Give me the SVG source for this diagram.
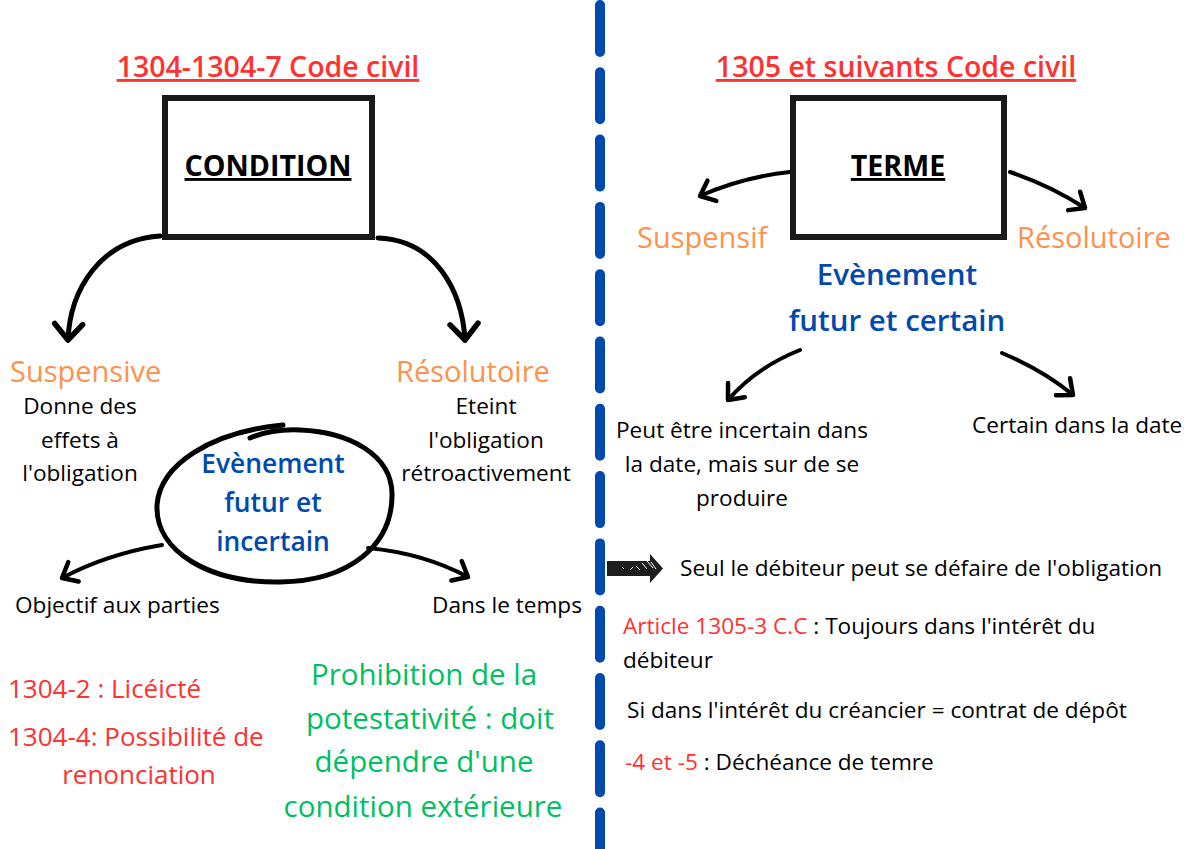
<svg xmlns="http://www.w3.org/2000/svg" width="1200" height="849" viewBox="0 0 1200 849">
<defs>
<style>
text{font-family:"Open Sans","Noto Sans","Liberation Sans",sans-serif;}
.t{font-size:22.6px;fill:#000;}
.c{text-anchor:middle;}
.title{font-size:28.5px;font-weight:600;fill:#ff3131;text-decoration:underline;}
.head{font-size:28.6px;font-weight:700;fill:#000;text-decoration:underline;}
.or{font-size:29px;fill:#ff914d;}
.bl{font-weight:600;fill:#004aad;}
.red{fill:#ff3131;}
.gr{font-size:29.5px;fill:#00bf63;}
.box{fill:#fff;stroke:#1a1a1a;stroke-width:6;}
.arr{fill:none;stroke:#000;stroke-width:5;stroke-linecap:round;marker-end:url(#ah);}
.arr2{fill:none;stroke:#000;stroke-width:4;stroke-linecap:round;marker-end:url(#ah2);}
</style>
<marker id="ah" markerUnits="userSpaceOnUse" markerWidth="40" markerHeight="40" viewBox="-20 -20 40 40" refX="0" refY="0" orient="auto">
<path d="M-16,-14 L0,0 L-16,14" fill="none" stroke="#000" stroke-width="5.5" stroke-linecap="round" stroke-linejoin="round"/>
</marker>
<marker id="ah2" markerUnits="userSpaceOnUse" markerWidth="40" markerHeight="40" viewBox="-20 -20 40 40" refX="0" refY="0" orient="auto">
<path d="M-13,-11 L0,0 L-13,11" fill="none" stroke="#000" stroke-width="4.5" stroke-linecap="round" stroke-linejoin="round"/>
</marker>
</defs>
<rect width="1200" height="849" fill="#fff"/>

<g id="divider">
<path d="M600,5 V849" stroke="#004aad" stroke-width="10" stroke-linecap="round" stroke-dasharray="47 20.3" fill="none"/>
</g>

<g id="connectors">
<path class="arr" d="M160,236 C100,240 70,290 68,340"/>
<path class="arr" d="M378,238 C435,240 462,290 465,340"/>
<path class="arr2" d="M790,172 C752,176 725,185 700,196"/>
<path class="arr2" d="M1010,172 C1040,182 1065,195 1085,208"/>
<path class="arr2" d="M800,350 C770,362 745,380 728,400"/>
<path class="arr2" d="M1002,353 C1030,365 1055,380 1073,395"/>
<path class="arr2" d="M162,545 C120,552 90,563 62,578"/>
<path class="arr2" d="M368,548 C410,552 440,562 468,577"/>
</g>

<g id="title-left"><text class="title c" x="268" y="77">1304-1304-7 Code civil</text></g>
<g id="title-right"><text class="title c" x="896" y="77">1305 et suivants Code civil</text></g>

<g id="condition">
<rect class="box" x="165" y="98" width="207" height="139"/>
<text class="head c" x="268" y="176">CONDITION</text>
</g>
<g id="terme">
<rect class="box" x="793" y="98" width="211" height="139"/>
<text class="head c" x="898" y="176">TERME</text>
</g>

<g id="suspensive">
<text class="or" x="10" y="382">Suspensive</text>
<text class="t c" x="80" y="414">Donne des</text>
<text class="t c" x="80" y="448">effets à</text>
<text class="t c" x="80" y="481">l'obligation</text>
</g>
<g id="resolutoire-left">
<text class="or" x="396" y="382">Résolutoire</text>
<text class="t c" x="486" y="414">Eteint</text>
<text class="t c" x="486" y="448">l'obligation</text>
<text class="t c" x="486" y="481">rétroactivement</text>
</g>

<g id="evenement-incertain">
<path d="M283,425 C210,432 160,465 157,505 C155,552 210,583 280,582 C350,581 393,545 392,493 C391,455 350,432 300,430 C278,429 262,433 250,438" fill="none" stroke="#000" stroke-width="5" stroke-linecap="round"/>
<text class="bl c" font-size="26.4" x="273" y="473">Evènement</text>
<text class="bl c" font-size="26.4" x="273" y="512">futur et</text>
<text class="bl c" font-size="26.4" x="273" y="551">incertain</text>
</g>

<g id="objectif"><text class="t" x="15" y="613">Objectif aux parties</text></g>
<g id="temps"><text class="t" x="432" y="613">Dans le temps</text></g>

<g id="articles-left">
<text class="red" font-size="26" x="8" y="698">1304-2 : Licéicté</text>
<text class="red" font-size="26" x="8" y="746">1304-4: Possibilité de</text>
<text class="red c" font-size="26" x="139" y="784">renonciation</text>
</g>

<g id="prohibition">
<text class="gr c" x="424" y="685">Prohibition de la</text>
<text class="gr c" x="430" y="729">potestativité : doit</text>
<text class="gr c" x="424" y="772">dépendre d'une</text>
<text class="gr c" x="423" y="817">condition extérieure</text>
</g>

<g id="suspensif"><text class="or" x="637" y="248">Suspensif</text></g>
<g id="resolutoire-right"><text class="or" x="1017" y="248">Résolutoire</text></g>

<g id="evenement-certain">
<text class="bl c" font-size="29.5" x="897" y="285">Evènement</text>
<text class="bl c" font-size="29.5" x="897" y="331">futur et certain</text>
</g>

<g id="incertain-date">
<text class="t c" x="742" y="438">Peut être incertain dans</text>
<text class="t c" x="742" y="472">la date, mais sur de se</text>
<text class="t c" x="742" y="506">produire</text>
</g>
<g id="certain-date"><text class="t" x="972" y="433">Certain dans la date</text></g>

<g id="seul-debiteur">
<path d="M607,561 H650 V554 L663,568.5 L650,583 V576 H607 Z" fill="#1e1e1e"/>
<path d="M622,567 l2,2 M630,570 l3,-3 M636,566 l4,4 M642,563 l5,6 M647,561 l6,7 M651,562 l5,7" stroke="#fff" stroke-width="1" fill="none"/>
<text class="t" x="680" y="576">Seul le débiteur peut se défaire de l'obligation</text>
</g>

<g id="article-1305-3">
<text class="t" x="623" y="634"><tspan class="red">Article 1305-3 C.C</tspan> : Toujours dans l'intérêt du</text>
<text class="t" x="623" y="668">débiteur</text>
</g>
<g id="creancier"><text class="t" x="627" y="718">Si dans l'intérêt du créancier = contrat de dépôt</text></g>
<g id="decheance"><text class="t" x="625" y="770"><tspan class="red">-4 et -5</tspan> : Déchéance de temre</text></g>
</svg>
